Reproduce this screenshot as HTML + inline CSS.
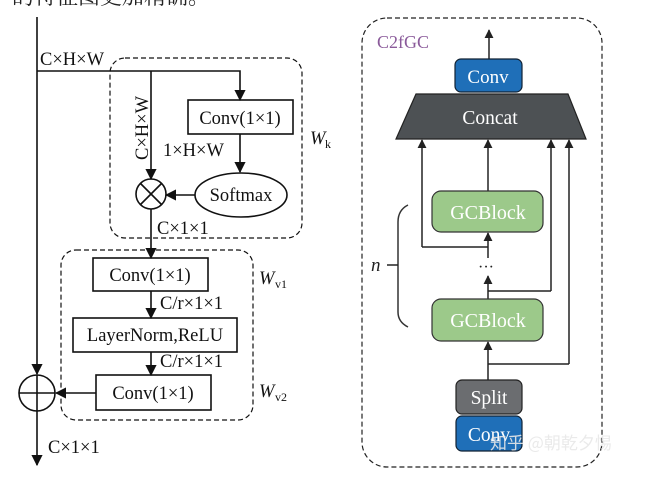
<!DOCTYPE html>
<html><head><meta charset="utf-8"><style>
body{margin:0;background:#fff;width:647px;height:474px;overflow:hidden}
text{font-family:"Liberation Serif","Noto Serif CJK SC",serif;}
</style></head><body>
<svg width="647" height="474" viewBox="0 0 647 474" xmlns="http://www.w3.org/2000/svg">
<defs>
<marker id="a" viewBox="0 0 10 10" refX="9" refY="5" markerWidth="7" markerHeight="7" orient="auto-start-reverse"><path d="M0,0L10,5L0,10z" fill="#111"/></marker>
<marker id="b" viewBox="0 0 10 10" refX="9" refY="5" markerWidth="6" markerHeight="6" orient="auto-start-reverse"><path d="M0,0L10,5L0,10z" fill="#222"/></marker>
</defs>
<text x="12" y="4" font-size="22" fill="#222">的特征图更加精确。</text>
<g stroke="#111" stroke-width="1.6" fill="none">
<rect x="110" y="58" width="192" height="180" rx="15" stroke-dasharray="5,3" stroke-width="1.2"/>
<rect x="61" y="250" width="192" height="170" rx="15" stroke-dasharray="5,3" stroke-width="1.2"/>
<line x1="37" y1="17" x2="37" y2="374" marker-end="url(#a)"/>
<line x1="37" y1="375" x2="37" y2="465" marker-end="url(#a)"/>
<polyline points="37,71 240,71 240,100" marker-end="url(#a)"/>
<line x1="151" y1="71" x2="151" y2="179" marker-end="url(#a)"/>
<line x1="240" y1="134" x2="240" y2="172" marker-end="url(#a)"/>
<line x1="195" y1="195" x2="166" y2="195" marker-end="url(#a)"/>
<line x1="151" y1="209" x2="151" y2="258" marker-end="url(#a)"/>
<line x1="151" y1="291" x2="151" y2="318" marker-end="url(#a)"/>
<line x1="151" y1="352" x2="151" y2="375" marker-end="url(#a)"/>
<line x1="96" y1="393" x2="56" y2="393" marker-end="url(#a)"/>
<rect x="188" y="100" width="105" height="34"/>
<ellipse cx="241" cy="195" rx="46" ry="22"/>
<circle cx="151" cy="194" r="15"/>
<line x1="140" y1="183" x2="162" y2="205"/><line x1="162" y1="183" x2="140" y2="205"/>
<rect x="93" y="258" width="115" height="33"/>
<rect x="73" y="318" width="164" height="34"/>
<rect x="96" y="375" width="115" height="35"/>
<circle cx="37" cy="393" r="18"/>
<line x1="19" y1="393" x2="55" y2="393"/>
</g>
<g font-size="18.5" fill="#111">
<text x="40" y="65">C×H×W</text>
<text x="240" y="124" text-anchor="middle">Conv(1×1)</text>
<text transform="translate(148,160) rotate(-90)">C×H×W</text>
<text x="163" y="156">1×H×W</text>
<text x="241" y="201" text-anchor="middle">Softmax</text>
<text x="157" y="234">C×1×1</text>
<text x="310" y="144" font-style="italic">W</text><text x="325" y="148" font-size="12">k</text>
<text x="150" y="281" text-anchor="middle">Conv(1×1)</text>
<text x="160" y="309">C/r×1×1</text>
<text x="155" y="341" text-anchor="middle">LayerNorm,ReLU</text>
<text x="160" y="367">C/r×1×1</text>
<text x="153" y="399" text-anchor="middle">Conv(1×1)</text>
<text x="48" y="453">C×1×1</text>
<text x="259" y="284" font-style="italic">W</text><text x="275" y="288" font-size="12">v1</text>
<text x="259" y="397" font-style="italic">W</text><text x="275" y="401" font-size="12">v2</text>
</g>
<rect x="362" y="18" width="240" height="449" rx="25" fill="none" stroke="#222" stroke-width="1.2" stroke-dasharray="5,3"/>
<text x="377" y="48" font-size="18" fill="#8a5a9a">C2fGC</text>
<g stroke="#222" stroke-width="1.5" fill="none">
<line x1="489" y1="59" x2="489" y2="30" marker-end="url(#b)"/>
<line x1="422" y1="247" x2="422" y2="140" marker-end="url(#b)"/>
<line x1="488" y1="191" x2="488" y2="140" marker-end="url(#b)"/>
<line x1="551" y1="291" x2="551" y2="140" marker-end="url(#b)"/>
<line x1="569" y1="364" x2="569" y2="140" marker-end="url(#b)"/>
<polyline points="422,247 488,247"/>
<line x1="488" y1="258" x2="488" y2="233" marker-end="url(#b)"/>
<line x1="488" y1="299" x2="488" y2="276" marker-end="url(#b)"/>
<polyline points="551,291 488,291"/>
<polyline points="569,364 488,364"/>
<line x1="488" y1="380" x2="488" y2="342" marker-end="url(#b)"/>
<path d="M408,205 Q398,210 398,222 L398,312 Q398,322 408,327" stroke="#333"/>
<line x1="387" y1="265" x2="398" y2="265"/>
</g>
<text x="478" y="272" font-size="16" fill="#222">···</text>
<text x="371" y="271" font-size="19" font-style="italic" fill="#222">n</text>
<rect x="455" y="59" width="67" height="33" rx="6" fill="#1f6fb8" stroke="#123" stroke-width="1.2"/>
<text x="488" y="83" font-size="19" fill="#fff" text-anchor="middle">Conv</text>
<polygon points="416,94 568,94 586,139 396,139" fill="#4d5154" stroke="#222" stroke-width="1.2"/>
<text x="490" y="124" font-size="19.5" fill="#fff" text-anchor="middle">Concat</text>
<rect x="432" y="191" width="111" height="41" rx="9" fill="#9cc98a" stroke="#333" stroke-width="1.2"/>
<text x="488" y="219" font-size="20" fill="#fff" text-anchor="middle">GCBlock</text>
<rect x="432" y="299" width="111" height="42" rx="9" fill="#9cc98a" stroke="#333" stroke-width="1.2"/>
<text x="488" y="327" font-size="20" fill="#fff" text-anchor="middle">GCBlock</text>
<rect x="456" y="380" width="66" height="34" rx="6" fill="#6b6d70" stroke="#222" stroke-width="1.2"/>
<text x="489" y="404" font-size="19.5" fill="#fff" text-anchor="middle">Split</text>
<rect x="456" y="416" width="66" height="35" rx="6" fill="#1f6fb8" stroke="#123" stroke-width="1.2"/>
<text x="489" y="441" font-size="19.5" fill="#fff" text-anchor="middle">Conv</text>
<text x="490" y="449" font-size="17" fill="#e8e8e8" style="font-family:'Noto Sans CJK SC',sans-serif" opacity="0.9">知乎 @朝乾夕惕</text>
</svg>
</body></html>
